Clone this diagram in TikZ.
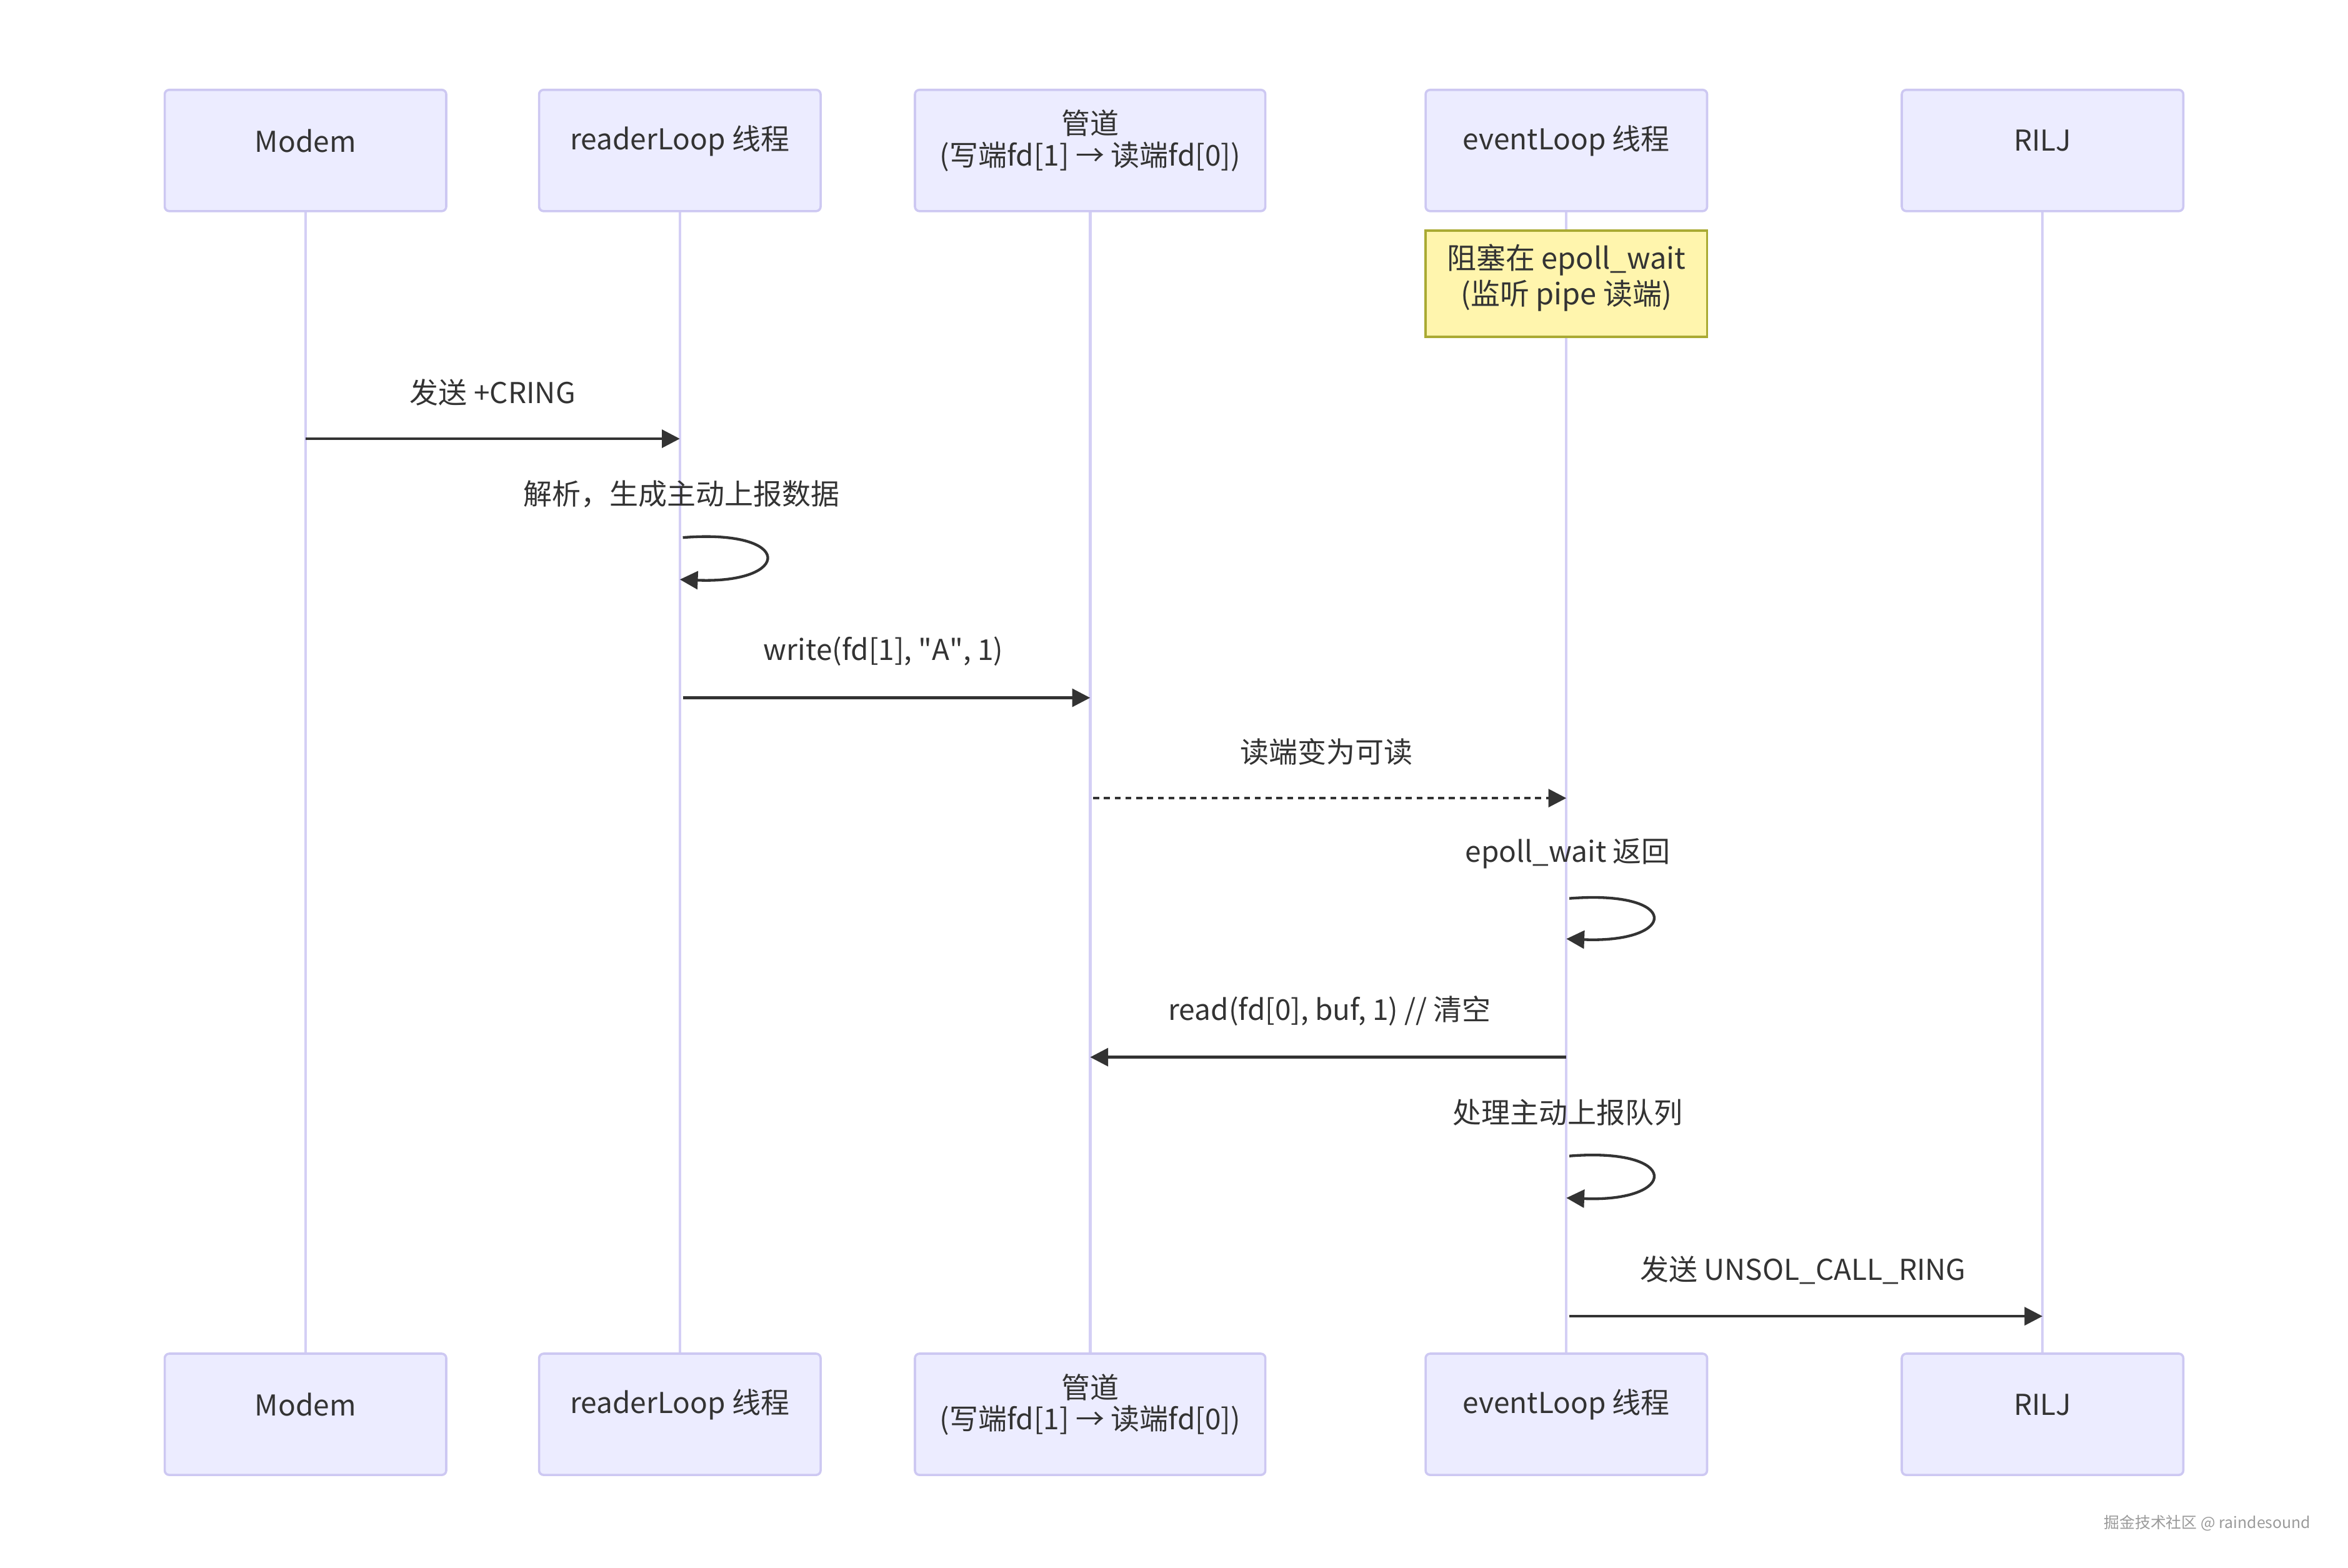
\documentclass[tikz,border=0pt]{standalone}
\usepackage{fontspec}
\setmainfont{Noto Sans CJK SC}
\usetikzlibrary{arrows.meta, positioning}
\definecolor{actorfill}{HTML}{ECECFF}
\definecolor{actorline}{HTML}{CDC8F2}
\definecolor{lifecol}{HTML}{D4CFF5}
\definecolor{notefill}{HTML}{FFF5AD}
\definecolor{noteline}{HTML}{AAAA33}
\definecolor{txt}{HTML}{333333}
\definecolor{wmark}{HTML}{9A9A9A}

\begin{document}
\begin{tikzpicture}[x=0.5pt, y=-0.5pt, font=\fontsize{9.6pt}{10.5pt}\selectfont]
  % Define styles for boxes, lines and texts
  \tikzstyle{actor}=[draw=actorline, fill=actorfill, rounded corners=1.5pt, line width=0.75pt, minimum width=94pt, minimum height=40.5pt, inner sep=0pt]
  \tikzstyle{actortext}=[text=txt, align=center, inner sep=0pt, yshift=3.25pt]
  \tikzstyle{lifeline}=[draw=lifecol, line width=0.9pt]
  \tikzstyle{msg}=[draw=txt, line width=0.9pt, -{Triangle[length=6pt, width=6pt]}]
  \tikzstyle{msglabel}=[text=txt, inner sep=0pt]
  \tikzstyle{note}=[draw=noteline, fill=notefill, line width=0.75pt, minimum width=94pt, minimum height=35.5pt, inner sep=0pt, align=center, text=txt, font=\fontsize{9.8pt}{12pt}\selectfont]

  \useasboundingbox (0,0) rectangle (1568,1047);

  % Lifelines first, boxes on top
  \foreach \lx in {204,454,728,1046,1364}
    \draw[lifeline] (\lx,141) -- (\lx,904);

  % Top participants
  \node[actor, label={[actortext]center:Modem}] (modemTop) at (204,100.5) {};
  \node[actor, label={[actortext]center:readerLoop 线程}] (readerTop) at (454,100.5) {};
  \node[actor, minimum width=117pt, label={[actortext]center:管道\\(写端fd[1] → 读端fd[0])}] (pipeTop) at (728,100.5) {};
  \node[actor, label={[actortext]center:eventLoop 线程}] (eventTop) at (1046,100.5) {};
  \node[actor, label={[actortext]center:RILJ}] (riljTop) at (1364,100.5) {};

  % Bottom participants
  \node[actor, label={[actortext]center:Modem}] (modemBot) at (204,944.5) {};
  \node[actor, label={[actortext]center:readerLoop 线程}] (readerBot) at (454,944.5) {};
  \node[actor, minimum width=117pt, label={[actortext]center:管道\\(写端fd[1] → 读端fd[0])}] (pipeBot) at (728,944.5) {};
  \node[actor, label={[actortext]center:eventLoop 线程}] (eventBot) at (1046,944.5) {};
  \node[actor, label={[actortext]center:RILJ}] (riljBot) at (1364,944.5) {};

  % Note over eventLoop
  \node[note] (blockNote) at (1046,189.5) {};
  \node[text=txt, align=center, inner sep=0pt, font=\fontsize{9.8pt}{12pt}\selectfont] (noteText) at (1046,185.5) {阻塞在 epoll\_wait\\(监听 pipe 读端)};

  % Points on the lifelines
  \coordinate (modem1) at (204,293);
  \coordinate (reader1) at (454,293);
  \coordinate (reader2a) at (456,359);
  \coordinate (reader2b) at (454,387);
  \coordinate (reader3) at (456,466);
  \coordinate (pipe3) at (728,466);
  \coordinate (pipe4) at (730,533);
  \coordinate (event4) at (1046,533);
  \coordinate (event5a) at (1048,600);
  \coordinate (event5b) at (1046,627);
  \coordinate (event6) at (1046,706);
  \coordinate (pipe6) at (728,706);
  \coordinate (event7a) at (1048,772);
  \coordinate (event7b) at (1046,800);
  \coordinate (event8) at (1048,879);
  \coordinate (rilj8) at (1364,879);

  % Messages
  \node[msglabel] (lab1) at (329,262) {发送 +CRING};
  \draw[msg] (modem1) -- (reader1);

  \node[msglabel] (lab2) at (455,330) {解析，生成主动上报数据};
  \draw[msg] (reader2a) .. controls +(75,-6) and +(75,3) .. (reader2b);

  \node[msglabel] (lab3) at (590,435) {write(fd[1], \textquotedbl A\textquotedbl, 1)};
  \draw[msg] (reader3) -- (pipe3);

  \node[msglabel] (lab4) at (886,502) {读端变为可读};
  \draw[msg, dash pattern=on 2pt off 1.6pt] (pipe4) -- (event4);

  \node[msglabel] (lab5) at (1047,570) {epoll\_wait 返回};
  \draw[msg] (event5a) .. controls +(75,-6) and +(75,3) .. (event5b);

  \node[msglabel] (lab6) at (888,675) {read(fd[0], buf, 1) // 清空};
  \draw[msg] (event6) -- (pipe6);

  \node[msglabel] (lab7) at (1047,743) {处理主动上报队列};
  \draw[msg] (event7a) .. controls +(75,-6) and +(75,3) .. (event7b);

  \node[msglabel] (lab8) at (1204,848) {发送 UNSOL\_CALL\_RING};
  \draw[msg] (event8) -- (rilj8);

  % Watermark
  \node[text=wmark, inner sep=0pt, font=\fontsize{5.2pt}{6pt}\selectfont] (wmarkText) at (1474,1017) {掘金技术社区 @ raindesound};
\end{tikzpicture}
\end{document}
